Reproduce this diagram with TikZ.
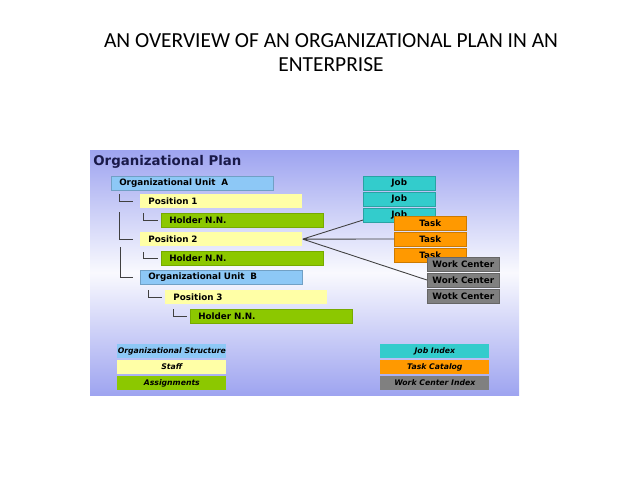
\documentclass[tikz,border=0pt]{standalone}
\usepackage{fontspec}
\setmainfont{Carlito}
\newfontfamily\boxfont{DejaVu Sans}
\definecolor{unitblue}{HTML}{8DC8F6}
\definecolor{posyellow}{HTML}{FFFFA6}
\definecolor{holdgreen}{HTML}{8CC800}
\definecolor{jobteal}{HTML}{33CCCC}
\definecolor{taskorange}{HTML}{FF9900}
\definecolor{wcgray}{HTML}{808080}
\definecolor{panelblue}{HTML}{9EA4F0}
\definecolor{planblue}{HTML}{1A1A4A}
\tikzset{
  box/.style={anchor=north west, inner sep=0pt, minimum height=0.27cm, font=\boxfont\bfseries\fontsize{5}{5}\selectfont},
  treebox/.style={box, inner xsep=0.16cm, text width=2.92cm, align=left},
  unitbox/.style={treebox, fill=unitblue, draw=unitblue!80!black, line width=0.3pt},
  posbox/.style={treebox, fill=posyellow},
  holdbox/.style={treebox, fill=holdgreen, draw=holdgreen!85!black, line width=0.3pt},
  sidebox/.style={box, minimum width=1.44cm, draw=#1!80!black, line width=0.3pt, fill=#1},
  legbox/.style={box, minimum width=2.18cm, fill=#1, font=\boxfont\bfseries\itshape\fontsize{4.4}{5}\selectfont},
  elbow/.style={draw=black!75, line width=0.5pt}
}
\begin{document}
\begin{tikzpicture}[x=0.02cm, y=-0.02cm]
  \useasboundingbox (0,0) rectangle (638,478);
  \node[align=center, anchor=north, font=\fontsize{12.2}{13.8}\selectfont] (title) at (331,27)
    {AN OVERVIEW OF AN ORGANIZATIONAL PLAN IN AN\\ENTERPRISE};
  \shade[top color=panelblue, bottom color=panelblue, middle color=white!94!panelblue] (90,150) rectangle (519,395);
  \node[anchor=base west, inner sep=0pt, text=planblue, font=\boxfont\bfseries\fontsize{7.6}{8}\selectfont] (plan) at (93,165) {Organizational Plan};
  % tree
  \node[unitbox] (ua) at (111,176) {Organizational Unit\ \ A};
  \node[posbox] (p1) at (140,194) {Position 1};
  \node[holdbox] (h1) at (161,213) {Holder N.N.};
  \node[posbox] (p2) at (140,232) {Position 2};
  \node[holdbox] (h2) at (161,251) {Holder N.N.};
  \node[unitbox] (ub) at (140,270) {Organizational Unit\ \ B};
  \node[posbox] (p3) at (165,290) {Position 3};
  \node[holdbox] (h3) at (190,309) {Holder N.N.};
  \draw[elbow] ([shift={(-21,-7)}]p1.west) |- ([shift={(-7,0)}]p1.west);
  \draw[elbow] ([shift={(-18,-7)}]h1.west) |- ([shift={(-3,0)}]h1.west);
  \draw[elbow] ([shift={(-21,-27)}]p2.west) |- ([shift={(-7,0)}]p2.west);
  \draw[elbow] ([shift={(-18,-6)}]h2.west) |- ([shift={(-3,0)}]h2.west);
  \draw[elbow] ([shift={(-20,-30)}]ub.west) |- ([shift={(-7,0)}]ub.west);
  \draw[elbow] ([shift={(-17,-7)}]p3.west) |- ([shift={(-3,0)}]p3.west);
  \draw[elbow] ([shift={(-17,-7)}]h3.west) |- ([shift={(-3,0)}]h3.west);
  % jobs, tasks, work centers
  \node[sidebox=jobteal] (j1) at (363,176) {Job};
  \node[sidebox=jobteal] (j2) at (363,192) {Job};
  \node[sidebox=jobteal] (j3) at (363,208) {Job};
  \node[sidebox=taskorange] (t1) at (394,216) {Task};
  \node[sidebox=taskorange] (t2) at (394,232) {Task};
  \node[sidebox=taskorange] (t3) at (394,248) {Task};
  \node[sidebox=wcgray] (w1) at (427,257) {Work Center};
  \node[sidebox=wcgray] (w2) at (427,273) {Work Center};
  \node[sidebox=wcgray] (w3) at (427,289) {Wotk Center};
  \draw[black!75, line width=0.5pt] (p2.east) -- ([shift={(0,-2)}]j3.south west)
    (p2.east) -- (t2.west) (p2.east) -- (w2.west);
  % legend
  \node[legbox=unitblue] (lstruct) at (117,344) {Organizational Structure};
  \node[legbox=posyellow] (lstaff) at (117,360) {Staff};
  \node[legbox=holdgreen] (lassign) at (117,376) {Assignments};
  \node[legbox=jobteal] (ljob) at (380,344) {Job Index};
  \node[legbox=taskorange] (ltask) at (380,360) {Task Catalog};
  \node[legbox=wcgray] (lwc) at (380,376) {Work Center Index};
\end{tikzpicture}
\end{document}
